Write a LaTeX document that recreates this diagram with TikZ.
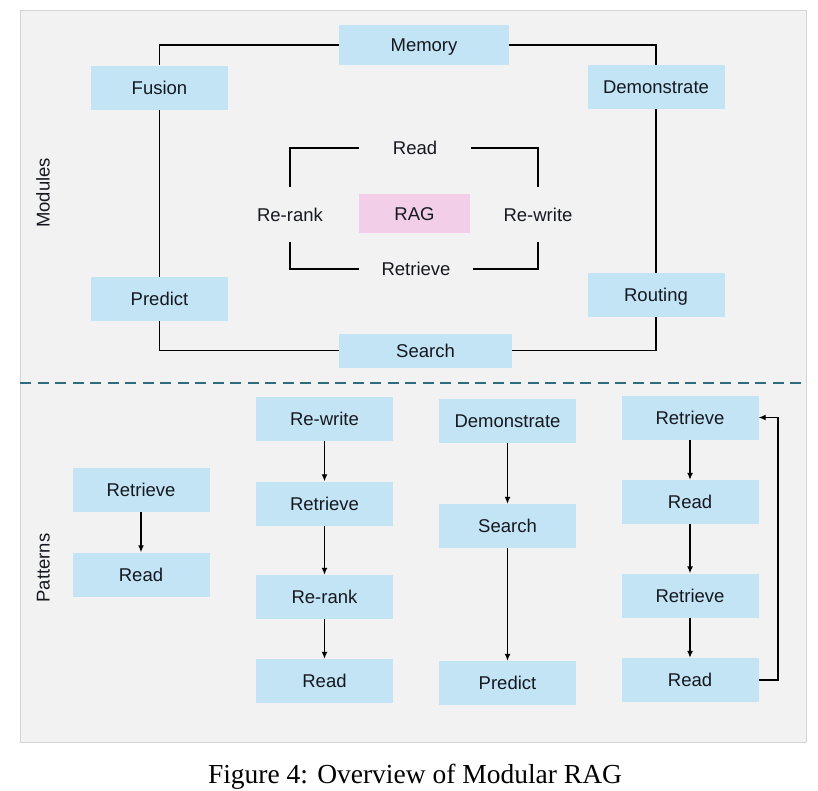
\documentclass[tikz,border=0pt]{standalone}
\usepackage{fontspec}
\setmainfont{Liberation Sans}
\newfontfamily\capfont{Liberation Serif}
\usetikzlibrary{arrows.meta}
\definecolor{boxblue}{RGB}{194,228,244}
\definecolor{ragpink}{RGB}{242,206,233}
\definecolor{panelgray}{RGB}{242,242,242}
\definecolor{panelborder}{RGB}{212,212,212}
\definecolor{dashteal}{RGB}{46,108,126}
\definecolor{txt}{RGB}{22,24,32}
\begin{document}
\begin{tikzpicture}[x=1pt,y=-1pt,
  every node/.style={font=\fontsize{18.5}{22}\selectfont, text=txt, inner sep=0pt,
    text height=16.65pt, text depth=3.4pt},
  mbox/.style={fill=boxblue, minimum width=137, minimum height=44},
  conn/.style={line width=1.3pt, black},
  arr/.style={line width=1.3pt, black, -{Latex[length=7pt,width=6pt]}}]
\useasboundingbox (0,0) rectangle (818,790);
% panel
\fill[panelgray, draw=panelborder, line width=0.8pt] (20,10) rectangle (806,742);
\coordinate (dashL) at (20,383);
\coordinate (dashR) at (806,383);
\draw[dashteal, line width=2pt, dash pattern=on 11pt off 6.5pt] (dashL) -- (dashR);
% side labels
\node[rotate=90] (modules) at (43,193) {Modules};
\node[rotate=90] (patterns) at (43,568) {Patterns};
% ---- Modules ----
\node[mbox, minimum width=170, minimum height=40] (memory) at (424,45) {Memory};
\node[mbox] (fusion) at (159.5,87.5) {Fusion};
\node[mbox] (demo) at (656,87) {Demonstrate};
\node[mbox] (predict) at (159.5,299) {Predict};
\node[mbox] (routing) at (656,295) {Routing};
\node[mbox, minimum width=173, minimum height=34] (search) at (425.5,350.5) {Search};
\node[fill=ragpink, minimum width=111, minimum height=39] (rag) at (414.5,213.5) {RAG};
\node[minimum width=112] (readT) at (415,148) {Read};
\node[minimum width=114] (retrT) at (416,269) {Retrieve};
\node[minimum height=55] (rerank) at (290,214.5) {Re-rank};
\node[minimum height=55] (rewrite) at (538,214.5) {Re-write};
\draw[conn] (memory.west) -| (fusion.north);
\draw[conn] (fusion.south) -- (predict.north);
\draw[conn] (predict.south) |- (search.west);
\draw[conn] (search.east) -| (routing.south);
\draw[conn] (routing.north) -- (demo.south);
\draw[conn] (demo.north) |- (memory.east);
\draw[conn] (readT.west) -| (rerank.north);
\draw[conn] (rerank.south) |- (retrT.west);
\draw[conn] (readT.east) -| (rewrite.north);
\draw[conn] (rewrite.south) |- (retrT.east);
% ---- Patterns ----
\node[mbox] (p1a) at (141,490) {Retrieve};
\node[mbox] (p1b) at (141,574.5) {Read};
\node[mbox] (p2a) at (324.5,419) {Re-write};
\node[mbox] (p2b) at (324.5,503.5) {Retrieve};
\node[mbox] (p2c) at (324.5,597) {Re-rank};
\node[mbox] (p2d) at (324.5,681) {Read};
\node[mbox] (p3a) at (507.5,420.5) {Demonstrate};
\node[mbox] (p3b) at (507.5,526) {Search};
\node[mbox] (p3c) at (507.5,683) {Predict};
\node[mbox] (p4a) at (690,417.5) {Retrieve};
\node[mbox] (p4b) at (690,502) {Read};
\node[mbox] (p4c) at (690,595.5) {Retrieve};
\node[mbox] (p4d) at (690,680) {Read};
\draw[arr] (p1a) -- (p1b);
\draw[arr] (p2a) -- (p2b);
\draw[arr] (p2b) -- (p2c);
\draw[arr] (p2c) -- (p2d);
\draw[arr] (p3a) -- (p3b);
\draw[arr] (p3b) -- (p3c);
\draw[arr] (p4a) -- (p4b);
\draw[arr] (p4b) -- (p4c);
\draw[arr] (p4c) -- (p4d);
\coordinate (loopx) at (778,0);
\draw[arr] (p4d.east) -| (loopx |- p4d.east) |- (p4a.east);
% caption
\node[font=\capfont\fontsize{27.5}{32}\selectfont, text=black, anchor=base, text height=, text depth=] (caption) at (415,783) {Figure 4: Overview of Modular RAG};
\end{tikzpicture}
\end{document}
